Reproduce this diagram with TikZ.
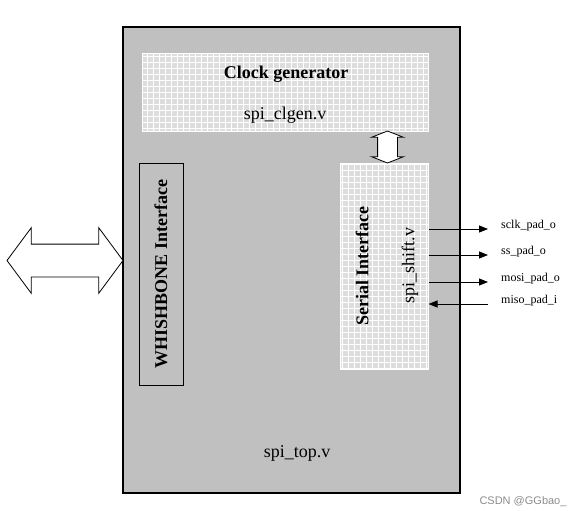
\documentclass[tikz,border=0pt]{standalone}
\usepackage{fontspec}
\setmainfont{Liberation Serif}
\setsansfont{Liberation Sans}
\usetikzlibrary{positioning,shapes.arrows,arrows.meta}

\definecolor{topgray}{HTML}{C0C0C0}
\definecolor{gridgray}{HTML}{DDDDDD}

\tikzset{
  topbox/.style={draw=black, line width=1.5pt, fill=topgray, minimum width=337pt, minimum height=466pt},
  gridbox/.style={draw=white, line width=1pt, fill=gridgray,
    path picture={\draw[white, line width=0.8pt, step=6pt]
      (path picture bounding box.south west) grid (path picture bounding box.north east);}},
  wbbox/.style={draw=black, line width=1pt, fill=topgray, minimum width=44pt, minimum height=222pt},
  bigtext/.style={font=\fontsize{18}{20}\selectfont, inner sep=0pt},
  bigbold/.style={font=\bfseries\fontsize{18}{20}\selectfont, inner sep=0pt},
  padtext/.style={font=\fontsize{12}{14}\selectfont, anchor=west, inner sep=0pt},
  fatarrow/.style={draw=black, line width=0.8pt, fill=white, shape=double arrow},
  sig/.style={line width=0.8pt, -{Triangle[length=9pt,width=7pt]}}
}

\begin{document}
\begin{tikzpicture}[x=1pt, y=-1pt]
  \useasboundingbox (0,0) rectangle (578,511);

  % Define the top module
  \node[topbox] (top) at (291.5,260) {};
  \node[bigtext] (topname) at (297,453) {spi\_top.v};

  % Clock generator
  \node[gridbox, minimum width=286pt, minimum height=77pt] (clkgen) at (285,92.5) {};
  \node[bigbold] (clktitle) at (286,74) {Clock generator};
  \node[bigtext] (clkname) at (285,115) {spi\_clgen.v};

  % Serial interface
  \node[gridbox, minimum width=88pt, minimum height=206pt] (serial) at (384,266) {};
  \node[bigbold, rotate=90] (sertitle) at (362,266) {Serial Interface};
  \node[bigtext, rotate=90] (sername) at (410,265.5) {spi\_shift.v};

  % WHISHBONE interface
  \node[wbbox] (wb) at (161,274) {};
  \node[bigbold, rotate=90] (wbtitle) at (wb.center) {WHISHBONE Interface};

  % Fat arrows
  \node[fatarrow, inner sep=16pt, minimum height=116pt,
        double arrow head extend=16.5pt, double arrow tip angle=107] (busarrow) at (65,260.5) {};
  \node[fatarrow, shape border rotate=90, inner sep=9.5pt, minimum height=32pt,
        double arrow head extend=6pt, double arrow tip angle=137] (clkarrow) at (387.5,147) {};

  % Pads
  \coordinate (sclkend) at (488,229);
  \coordinate (ssend) at (488,255);
  \coordinate (mosiend) at (488,282);
  \coordinate (misostart) at (488,304);
  \node[padtext] (sclk) at (501,226) {sclk\_pad\_o};
  \node[padtext] (ss) at (501,252) {ss\_pad\_o};
  \node[padtext] (mosi) at (501,279) {mosi\_pad\_o};
  \node[padtext] (miso) at (501,301) {miso\_pad\_i};

  \draw[sig] (serial.east |- sclkend) -- (sclkend);
  \draw[sig] (serial.east |- ssend) -- (ssend);
  \draw[sig] (serial.east |- mosiend) -- (mosiend);
  \draw[sig] (misostart) -- (serial.east |- misostart);

  \node[font=\sffamily\fontsize{11}{13}\selectfont, text=black!45] (mark) at (523,502) {CSDN @GGbao\_};
\end{tikzpicture}
\end{document}
